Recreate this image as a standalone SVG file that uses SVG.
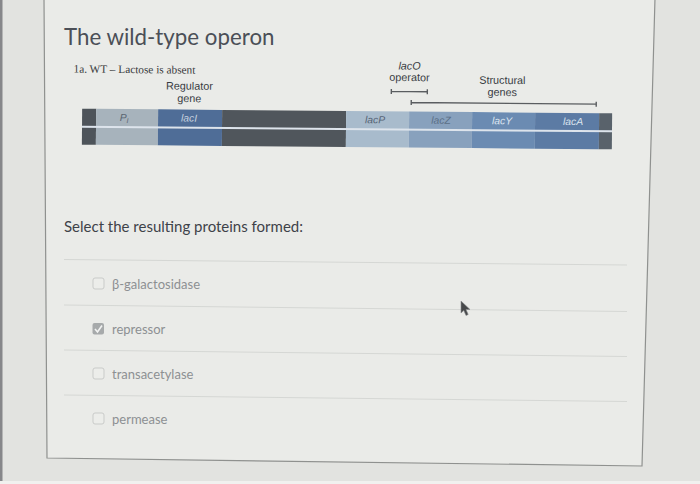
<svg xmlns="http://www.w3.org/2000/svg" width="700" height="484" viewBox="0 0 700 484">
<style>
.lato{font-family:Lato,"Open Sans","Liberation Sans",sans-serif}
.serif{font-family:"Liberation Serif","Times New Roman",serif}
.seg-lbl{font-family:"Liberation Sans",Arial,sans-serif;font-style:italic;font-size:10.3px;text-anchor:middle}
.hdr{font-family:"Liberation Sans",Arial,sans-serif;font-size:10.8px;fill:#383c43;text-anchor:middle}
.opt{font-family:Lato,"Open Sans","Liberation Sans",sans-serif;font-size:13px;fill:#8d9093}
.box{fill:#ecedea;stroke:#c9cbc9;stroke-width:1}
.sep{stroke:#d5d7d4;stroke-width:1}
.brk{stroke:#5a5d60;stroke-width:1.4;fill:none}
</style>
<rect x="0" y="0" width="700" height="484" fill="#e2e3e0"/>
<rect x="0" y="0" width="2.5" height="484" fill="#86878a"/>
<rect x="0" y="481" width="700" height="3" fill="#f1f1ef"/>
<polygon points="44,-2 655,-2 642,466 47,458" fill="#eaebe8" stroke="#8f918f" stroke-width="1.2"/>

<g id="title"><text x="64" y="45" class="lato" font-size="22.3" fill="#4b4f57">The wild-type operon</text></g>

<g transform="rotate(0.5 347 129)">
<g id="subtitle"><text x="73" y="75" class="serif" font-size="11.3" fill="#3a3c40">1a.  WT – Lactose is absent</text></g>
<g id="regulator-label"><text x="189" y="91" class="hdr">Regulator</text><text x="189" y="103.5" class="hdr">gene</text></g>
<g id="operator-label"><text x="409" y="69" class="hdr" font-style="italic">lacO</text><text x="409" y="80.5" class="hdr">operator</text></g>
<g id="structural-label"><text x="502" y="82.5" class="hdr">Structural</text><text x="502" y="94.5" class="hdr">genes</text></g>

<g id="connectors">
<path class="brk" d="M391,91 H427 M391,88.5 V93.5 M427,88.5 V93.5"/>
<path class="brk" d="M411,102 H596 M411,99.5 V104.5 M596,99.5 V104.5"/>
</g>

<g id="bar">
<g id="seg-left"><rect x="82" y="111" width="14" height="36" fill="#4e545a"/></g>
<g id="seg-PI"><rect x="96" y="111" width="62" height="36" fill="#a7b3bc"/>
<text x="124" y="123" class="seg-lbl" fill="#5a6570">P<tspan font-size="7" dy="2">I</tspan></text></g>
<g id="seg-lacI"><rect x="158" y="111" width="64" height="36" fill="#4f6d97"/>
<text x="189" y="123" class="seg-lbl" fill="#c7d2df">lacI</text></g>
<g id="seg-spacer"><rect x="222" y="111" width="124" height="36" fill="#50565c"/></g>
<g id="seg-lacP"><rect x="346" y="111" width="63" height="36" fill="#a8bbcc"/>
<text x="375" y="123" class="seg-lbl" fill="#556374">lacP</text></g>
<g id="seg-lacZ"><rect x="409" y="111" width="63" height="36" fill="#88a1bd"/>
<text x="441" y="123" class="seg-lbl" fill="#5b6f86">lacZ</text></g>
<g id="seg-lacY"><rect x="472" y="111" width="63" height="36" fill="#6b8bb2"/>
<text x="502" y="123" class="seg-lbl" fill="#dde6f1">lacY</text></g>
<g id="seg-lacA"><rect x="535" y="111" width="64" height="36" fill="#5c7ba4"/>
<text x="573" y="123" class="seg-lbl" fill="#dbe4ef">lacA</text></g>
<g id="seg-right"><rect x="599" y="111" width="13" height="36" fill="#59626b"/></g>
<rect x="82" y="128" width="530" height="2" fill="#dde4ec"/>
</g>
</g>

<g id="question"><text x="64" y="232" class="lato" font-size="15" fill="#3e4249">Select the resulting proteins formed:</text></g>

<g id="separators">
<line class="sep" x1="64" y1="259.5" x2="627" y2="265"/>
<line class="sep" x1="64" y1="305" x2="627" y2="311.5"/>
<line class="sep" x1="64" y1="350" x2="627" y2="356.5"/>
<line class="sep" x1="64" y1="395" x2="627" y2="401.5"/>
</g>

<g id="opt-bgal"><rect class="box" x="93" y="278" width="11" height="11" rx="2"/><text x="112" y="289" class="opt">β-galactosidase</text></g>
<g id="opt-repressor"><rect x="92.5" y="323" width="11.5" height="11.5" rx="2" fill="#a7aaab"/>
<path d="M95,329 L97.5,332 L102,325.5" stroke="#f2f3f2" stroke-width="1.6" fill="none"/>
<text x="112" y="334" class="opt" fill="#4a4d52">repressor</text></g>
<g id="opt-transacetylase"><rect class="box" x="93" y="368" width="11" height="11" rx="2"/><text x="112" y="379" class="opt">transacetylase</text></g>
<g id="opt-permease"><rect class="box" x="93" y="413" width="11" height="11" rx="2"/><text x="112" y="424" class="opt">permease</text></g>

<g id="cursor"><polygon points="461,301 461,313 463.8,310.4 466,315.5 468.2,314.5 466,309.5 470,309.5" fill="#47494b" stroke="#8a8c8d" stroke-width="0.6"/></g>
</svg>
